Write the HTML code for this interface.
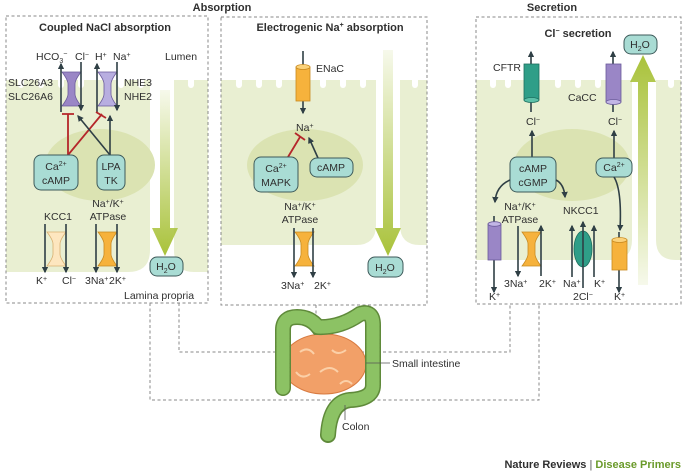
<!DOCTYPE html>
<html><head><meta charset="utf-8"><style>
html,body{margin:0;padding:0;background:#fff;}
svg{display:block;font-family:"Liberation Sans",sans-serif;}
text{fill:#2f2f2f;font-size:10.5px;}
.b{font-weight:bold;font-size:11px;}
.box{fill:#a9dcd4;stroke:#3d5a5a;stroke-width:1;}
.ln{stroke:#2f3f45;stroke-width:1.6;fill:none;}
.rd{stroke:#b5262a;stroke-width:1.8;fill:none;}
.dash{stroke:#888;stroke-width:1;fill:none;stroke-dasharray:3,2.5;}
</style></head><body>
<svg width="685" height="474" viewBox="0 0 685 474" xmlns="http://www.w3.org/2000/svg">
<defs>
<marker id="ah" viewBox="0 0 10 10" refX="8" refY="5" markerWidth="4" markerHeight="4" orient="auto"><path d="M0,0L10,5L0,10z" fill="#2f3f45"/></marker>
<linearGradient id="gd" x1="0" y1="0" x2="0" y2="1"><stop offset="0" stop-color="#a9c23a" stop-opacity="0.1"/><stop offset="1" stop-color="#a9c23a"/></linearGradient>
<linearGradient id="gu" x1="0" y1="1" x2="0" y2="0"><stop offset="0" stop-color="#a9c23a" stop-opacity="0.1"/><stop offset="1" stop-color="#a9c23a"/></linearGradient>
</defs>

<text x="222" y="11" class="b" text-anchor="middle">Absorption</text>
<text x="552" y="11" class="b" text-anchor="middle">Secretion</text>

<g fill="#e9efd2">
<path d="M6,80H150V250Q150,272 128,272H6z"/>
<path d="M174,80H208V272H194Q174,272 174,250z"/>
<path d="M221,80H376V225Q376,245 356,245H221z"/>
<path d="M400,80H427V245H420Q400,245 400,225z"/>
<path d="M476,80H632V240Q632,260 612,260H476z"/>
<path d="M656,80H681V260H676Q656,260 656,240z"/>
</g>
<g fill="#fff">
<rect x="18" y="76" width="6" height="12" rx="3"/><rect x="38" y="76" width="6" height="12" rx="3"/><rect x="58" y="76" width="6" height="12" rx="3"/><rect x="78" y="76" width="6" height="12" rx="3"/><rect x="118" y="76" width="6" height="12" rx="3"/><rect x="138" y="76" width="6" height="12" rx="3"/><rect x="188" y="76" width="6" height="12" rx="3"/>
<rect x="236" y="76" width="6" height="12" rx="3"/><rect x="256" y="76" width="6" height="12" rx="3"/><rect x="276" y="76" width="6" height="12" rx="3"/><rect x="320" y="76" width="6" height="12" rx="3"/><rect x="340" y="76" width="6" height="12" rx="3"/><rect x="360" y="76" width="6" height="12" rx="3"/><rect x="412" y="76" width="6" height="12" rx="3"/>
<rect x="490" y="76" width="6" height="12" rx="3"/><rect x="505" y="76" width="6" height="12" rx="3"/><rect x="555" y="76" width="6" height="12" rx="3"/><rect x="575" y="76" width="6" height="12" rx="3"/><rect x="595" y="76" width="6" height="12" rx="3"/><rect x="668" y="76" width="6" height="12" rx="3"/>
</g>
<g fill="#dbe3b2">
<ellipse cx="100" cy="165" rx="55" ry="36"/>
<ellipse cx="305" cy="165" rx="58" ry="36"/>
<ellipse cx="572" cy="165" rx="58" ry="36"/>
</g>

<path d="M160,90H170V228H178L165,256L152,228H160z" fill="url(#gd)"/>
<path d="M383,50H393V228H401L388,256L375,228H383z" fill="url(#gd)"/>
<path d="M638,285H648V82H656L643,55L630,82H638z" fill="url(#gu)"/>

<rect x="6" y="16" width="202" height="287" class="dash"/>
<rect x="221" y="17" width="206" height="288" class="dash"/>
<rect x="476" y="17" width="205" height="287" class="dash"/>
<path d="M179,303V352H510V304" class="dash"/>
<path d="M316,305V380" class="dash"/>
<path d="M150,303V400H539V304" class="dash"/>

<!-- LEFT PANEL -->
<text x="105" y="31" class="b" text-anchor="middle">Coupled NaCl absorption</text>
<text x="36" y="60">HCO<tspan font-size="7" dy="3">3</tspan><tspan font-size="7" dy="-7">−</tspan></text>
<text x="75" y="60">Cl<tspan font-size="7" dy="-3">−</tspan></text>
<text x="95" y="60">H<tspan font-size="7" dy="-3">+</tspan></text>
<text x="113" y="60">Na<tspan font-size="7" dy="-3">+</tspan></text>
<text x="165" y="60">Lumen</text>
<text x="8" y="86">SLC26A3</text><text x="8" y="100">SLC26A6</text>
<text x="124" y="86">NHE3</text><text x="124" y="100">NHE2</text>
<path d="M62,72H81Q75,80 75,84V94Q75,98 81,106H62Q68,98 68,94V84Q68,80 62,72z" fill="#9a86c6" stroke="#6a5a9a" stroke-width=".8"/>
<path d="M98,72H117Q111,80 111,84V94Q111,98 117,106H98Q104,98 104,94V84Q104,80 98,72z" fill="#b8aee0" stroke="#6a5a9a" stroke-width=".8"/>
<path d="M61,112V64" class="ln" marker-end="url(#ah)"/>
<path d="M81,62V110" class="ln" marker-end="url(#ah)"/>
<path d="M97,112V64" class="ln" marker-end="url(#ah)"/>
<path d="M117,62V110" class="ln" marker-end="url(#ah)"/>
<path d="M68,155V114M62,114H74" class="rd"/>
<path d="M68,155L102,114M96,112L106,118" class="rd"/>
<path d="M110,155L78,116" class="ln" marker-end="url(#ah)"/>
<path d="M110,155V116" class="ln" marker-end="url(#ah)"/>
<rect x="34" y="155" width="44" height="35" rx="7" class="box"/>
<text x="56" y="170" text-anchor="middle">Ca<tspan font-size="7" dy="-4">2+</tspan></text><text x="56" y="184" text-anchor="middle">cAMP</text>
<rect x="97" y="155" width="28" height="35" rx="7" class="box"/>
<text x="111" y="170" text-anchor="middle">LPA</text><text x="111" y="184" text-anchor="middle">TK</text>
<text x="58" y="220" text-anchor="middle">KCC1</text>
<text x="108" y="207" text-anchor="middle">Na<tspan font-size="7" dy="-3">+</tspan><tspan dy="3">/K</tspan><tspan font-size="7" dy="-3">+</tspan></text>
<text x="108" y="220" text-anchor="middle">ATPase</text>
<path d="M47,232H66Q60,240 60,244V254Q60,258 66,266H47Q53,258 53,254V244Q53,240 47,232z" fill="#fde6bf" stroke="#d9b070" stroke-width=".8"/>
<path d="M98,232H117Q111,240 111,244V254Q111,258 117,266H98Q104,258 104,254V244Q104,240 98,232z" fill="#f6b23c" stroke="#c88a20" stroke-width=".8"/>
<path d="M45,224V272" class="ln" marker-end="url(#ah)"/>
<path d="M66,224V272" class="ln" marker-end="url(#ah)"/>
<path d="M96,224V272" class="ln" marker-end="url(#ah)"/>
<path d="M117,224V272" class="ln" marker-end="url(#ah)"/>
<text x="36" y="284">K<tspan font-size="7" dy="-3">+</tspan></text>
<text x="62" y="284">Cl<tspan font-size="7" dy="-3">−</tspan></text>
<text x="85" y="284">3Na<tspan font-size="7" dy="-3">+</tspan></text>
<text x="109" y="284">2K<tspan font-size="7" dy="-3">+</tspan></text>
<rect x="150" y="257" width="33" height="19" rx="7" class="box"/>
<text x="166" y="270" text-anchor="middle">H<tspan font-size="7" dy="3">2</tspan><tspan dy="-3">O</tspan></text>
<text x="124" y="299">Lamina propria</text>

<!-- MIDDLE PANEL -->
<text x="330" y="31" class="b" text-anchor="middle">Electrogenic Na<tspan font-size="7" dy="-4">+</tspan><tspan dy="4"> absorption</tspan></text>
<path d="M303,51V113" class="ln" marker-end="url(#ah)"/>
<rect x="296" y="67" width="14" height="34" fill="#f6b23c" stroke="#c88a20" stroke-width=".8"/>
<ellipse cx="303" cy="67" rx="7" ry="2.5" fill="#fbd27a" stroke="#c88a20" stroke-width=".8"/>
<text x="316" y="72">ENaC</text>
<text x="296" y="131">Na<tspan font-size="7" dy="-3">+</tspan></text>
<path d="M288,157L300,137M295,133L305,140" class="rd"/>
<path d="M318,158L309,138" class="ln" marker-end="url(#ah)"/>
<rect x="254" y="157" width="44" height="35" rx="7" class="box"/>
<text x="276" y="172" text-anchor="middle">Ca<tspan font-size="7" dy="-4">2+</tspan></text><text x="276" y="186" text-anchor="middle">MAPK</text>
<rect x="310" y="158" width="43" height="19" rx="7" class="box"/>
<text x="331" y="171" text-anchor="middle">cAMP</text>
<text x="300" y="210" text-anchor="middle">Na<tspan font-size="7" dy="-3">+</tspan><tspan dy="3">/K</tspan><tspan font-size="7" dy="-3">+</tspan></text>
<text x="300" y="223" text-anchor="middle">ATPase</text>
<path d="M295,232H314Q308,240 308,244V254Q308,258 314,266H295Q301,258 301,254V244Q301,240 295,232z" fill="#f6b23c" stroke="#c88a20" stroke-width=".8"/>
<path d="M294,228V277" class="ln" marker-end="url(#ah)"/>
<path d="M313,228V277" class="ln" marker-end="url(#ah)"/>
<text x="281" y="289">3Na<tspan font-size="7" dy="-3">+</tspan></text>
<text x="314" y="289">2K<tspan font-size="7" dy="-3">+</tspan></text>
<rect x="368" y="257" width="35" height="20" rx="7" class="box"/>
<text x="385" y="271" text-anchor="middle">H<tspan font-size="7" dy="3">2</tspan><tspan dy="-3">O</tspan></text>

<!-- RIGHT PANEL -->
<text x="578" y="37" class="b" text-anchor="middle">Cl<tspan font-size="7" dy="-4">−</tspan><tspan dy="4"> secretion</tspan></text>
<rect x="624" y="35" width="33" height="19" rx="7" class="box"/>
<text x="640" y="48" text-anchor="middle">H<tspan font-size="7" dy="3">2</tspan><tspan dy="-3">O</tspan></text>
<path d="M531,112V52" class="ln" marker-end="url(#ah)"/>
<rect x="524" y="64" width="15" height="36" fill="#2f9e88" stroke="#1d6e5e" stroke-width=".8"/>
<ellipse cx="531.5" cy="100" rx="7.5" ry="2.5" fill="#5cc0a8" stroke="#1d6e5e" stroke-width=".8"/>
<text x="493" y="71">CFTR</text>
<path d="M613,112V52" class="ln" marker-end="url(#ah)"/>
<rect x="606" y="64" width="15" height="38" fill="#9a86c6" stroke="#6a5a9a" stroke-width=".8"/>
<ellipse cx="613.5" cy="102" rx="7.5" ry="2.5" fill="#c2b6e6" stroke="#6a5a9a" stroke-width=".8"/>
<text x="568" y="101">CaCC</text>
<text x="526" y="125">Cl<tspan font-size="7" dy="-3">−</tspan></text>
<text x="608" y="125">Cl<tspan font-size="7" dy="-3">−</tspan></text>
<path d="M532,157V131" class="ln" marker-end="url(#ah)"/>
<path d="M614,158V131" class="ln" marker-end="url(#ah)"/>
<rect x="510" y="157" width="46" height="35" rx="7" class="box"/>
<text x="533" y="172" text-anchor="middle">cAMP</text><text x="533" y="186" text-anchor="middle">cGMP</text>
<rect x="596" y="158" width="36" height="19" rx="7" class="box"/>
<text x="614" y="171" text-anchor="middle">Ca<tspan font-size="7" dy="-4">2+</tspan></text>
<path d="M510,180Q496,186 495,202" class="ln" marker-end="url(#ah)"/>
<path d="M556,180Q564,184 565,197" class="ln" marker-end="url(#ah)"/>
<path d="M614,177Q622,190 620,230" class="ln" marker-end="url(#ah)"/>
<text x="520" y="210" text-anchor="middle">Na<tspan font-size="7" dy="-3">+</tspan><tspan dy="3">/K</tspan><tspan font-size="7" dy="-3">+</tspan></text>
<text x="520" y="223" text-anchor="middle">ATPase</text>
<text x="563" y="214">NKCC1</text>
<path d="M494,216V292" class="ln" marker-end="url(#ah)"/>
<rect x="488" y="224" width="13" height="36" fill="#9a86c6" stroke="#6a5a9a" stroke-width=".8"/>
<ellipse cx="494.5" cy="224" rx="6.5" ry="2.3" fill="#c2b6e6" stroke="#6a5a9a" stroke-width=".8"/>
<path d="M522,232H541Q535,240 535,244V254Q535,258 541,266H522Q528,258 528,254V244Q528,240 522,232z" fill="#f6b23c" stroke="#c88a20" stroke-width=".8"/>
<path d="M518,226V276" class="ln" marker-end="url(#ah)"/>
<path d="M541,276V226" class="ln" marker-end="url(#ah)"/>
<ellipse cx="583" cy="249" rx="9" ry="18" fill="#2f9e88" stroke="#1d6e5e" stroke-width=".8"/>
<path d="M572,277V226" class="ln" marker-end="url(#ah)"/>
<path d="M583,288V222" class="ln" marker-end="url(#ah)"/>
<path d="M594,277V226" class="ln" marker-end="url(#ah)"/>
<path d="M619,232V292" class="ln" marker-end="url(#ah)"/>
<rect x="612" y="240" width="15" height="30" fill="#f6b23c" stroke="#c88a20" stroke-width=".8"/>
<ellipse cx="619.5" cy="240" rx="7.5" ry="2.5" fill="#fbd27a" stroke="#c88a20" stroke-width=".8"/>
<text x="489" y="300">K<tspan font-size="7" dy="-3">+</tspan></text>
<text x="504" y="287">3Na<tspan font-size="7" dy="-3">+</tspan></text>
<text x="539" y="287">2K<tspan font-size="7" dy="-3">+</tspan></text>
<text x="563" y="287">Na<tspan font-size="7" dy="-3">+</tspan></text>
<text x="594" y="287">K<tspan font-size="7" dy="-3">+</tspan></text>
<text x="573" y="300">2Cl<tspan font-size="7" dy="-3">−</tspan></text>
<text x="614" y="300">K<tspan font-size="7" dy="-3">+</tspan></text>

<!-- intestine -->
<ellipse cx="324" cy="364" rx="42" ry="30" fill="#f2a068" stroke="#d87a40" stroke-width="1"/>
<path d="M300,352q8,-6 14,2M320,372q10,-8 18,0M332,350q6,6 14,0M296,372q6,8 14,2M340,384q6,-6 12,0" stroke="#fbd0a8" stroke-width="2" fill="none"/>
<path d="M283,388V330Q283,317 297,317Q310,317 318,327Q340,328 360,314Q373,310 373,325V385Q373,399 350,400Q330,402 328,435" stroke="#5f8a3a" stroke-width="16" fill="none" stroke-linecap="round"/>
<path d="M283,388V330Q283,317 297,317Q310,317 318,327Q340,328 360,314Q373,310 373,325V385Q373,399 350,400Q330,402 328,435" stroke="#8cc264" stroke-width="13" fill="none" stroke-linecap="round" stroke-dasharray="3,1.2"/>
<path d="M366,363H390M345,405V420" stroke="#555" stroke-width=".8"/>
<text x="392" y="367">Small intestine</text>
<text x="342" y="430">Colon</text>

<text x="681" y="468" class="b" text-anchor="end">Nature Reviews <tspan fill="#555" font-weight="normal">|</tspan> <tspan fill="#6a9a2a">Disease Primers</tspan></text>
</svg>
</body></html>
